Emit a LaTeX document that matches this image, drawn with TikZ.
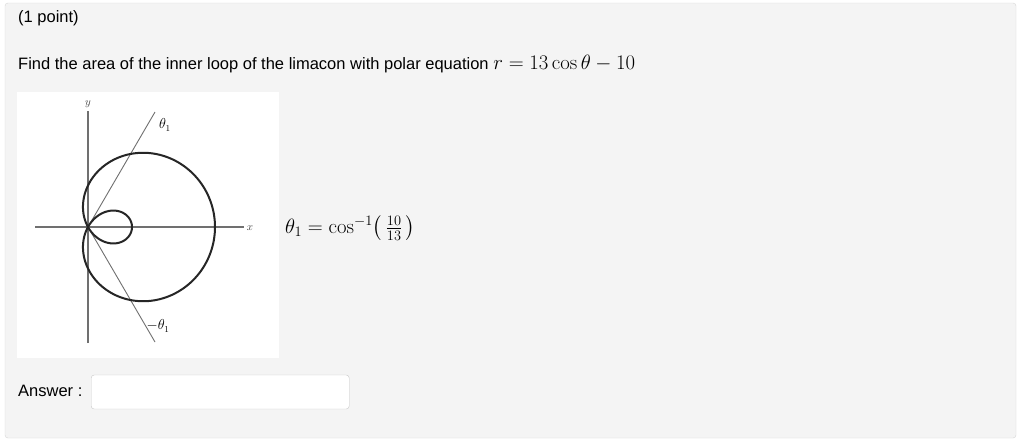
\documentclass[tikz,border=0pt]{standalone}
\usepackage{amsmath}
\usepackage[no-math]{fontspec}
\setmainfont{Liberation Sans}
\usetikzlibrary{positioning}
\definecolor{panelgray}{HTML}{F4F4F4}
\definecolor{edgegray}{HTML}{D8D8D8}
\definecolor{boxgray}{HTML}{C8C8C8}
\definecolor{axisgray}{HTML}{707070}
\tikzset{
  txt/.style={anchor=west, inner sep=0pt, font=\fontsize{16.5}{19}\selectfont},
  lbl/.style={inner sep=0pt, font=\fontsize{13.5}{15}\selectfont},
  axlbl/.style={inner sep=0pt, text=black!75, font=\fontsize{11}{13}\selectfont},
  axis/.style={draw=axisgray, line width=1.3pt},
  ray/.style={draw=axisgray, line width=0.9pt},
  curve/.style={draw=black!85, line width=2pt}
}
\begin{document}
\begin{tikzpicture}[x=1pt, y=-1pt]
	\useasboundingbox (0,0) rectangle (1024,445);
	
	% Rahmen
	\fill[white] (0,0) rectangle (1024,445);
	\draw[edgegray, fill=panelgray, rounded corners=3pt] (5,3) rectangle (1016,438);
	
	% Aufgabentext
	\node (pts) [txt] at (18,18) {(1 point)};
	\node (task) [txt] at (18,64) {Find the area of the inner loop of the limacon with polar equation \fontsize{21}{23}\selectfont$r = 13\cos\theta - 10$};
	
	% Bildfeld
	\fill[white] (17,92) rectangle (279,358);
	
	% Achsen
	\coordinate (O) at (88,227);
	\coordinate (xl) at (35,227);
	\coordinate (xr) at (244,227);
	\coordinate (yt) at (88,111);
	\coordinate (yb) at (88,343);
	\draw[axis] (xl) -- (xr);
	\draw[axis] (yb) -- (yt);
	\node (xlab) [axlbl] at (250,228) {$x$};
	\node (ylab) [axlbl] at (88,104) {$y$};
	
	% Strahlen
	\coordinate (up) at (155,112);
	\coordinate (dn) at (155,342);
	\draw[ray] (O) -- (up);
	\draw[ray] (O) -- (dn);
	\node (tup) [lbl] at (165,125) {$\theta_1$};
	\node (tdn) [lbl] at (158,326) {$-\theta_1$};
	
	% Limacon
	\draw[curve] plot[domain=0:360, samples=241, smooth]
		({88+(85.5*cos(\x)-41.5)*cos(\x)}, {227-(85.5*cos(\x)-41.5)*sin(\x)});
	
	% Formel
	\node (eq) [txt, font=\fontsize{20.5}{23}\selectfont] at (285,228) {$\theta_1 = \cos^{-1}\bigl(\,\tfrac{10}{13}\,\bigr)$};
	
	% Antwort
	\node (ans) [txt] at (18,391) {Answer :};
	\node (box) [draw=boxgray, fill=white, rounded corners=3pt, minimum width=258pt, minimum height=34pt, anchor=west] at (91,392) {};
	
\end{tikzpicture}
\end{document}
